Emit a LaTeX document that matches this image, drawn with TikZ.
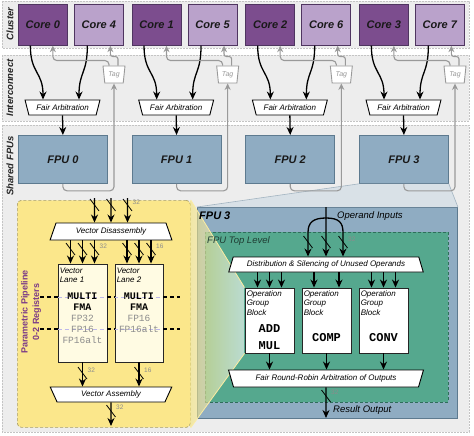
\documentclass[tikz,border=0pt]{standalone}
\usepackage{fontspec}
\setmainfont{Liberation Sans}
\setsansfont{Liberation Sans}
\setmonofont{Liberation Mono}
\usetikzlibrary{arrows.meta,shapes.geometric}
\definecolor{coreD}{HTML}{7C4D8E}
\definecolor{coreL}{HTML}{BAA2CB}
\definecolor{coreB}{HTML}{4F3560}
\definecolor{fpuF}{HTML}{8FACC2}
\definecolor{fpuB}{HTML}{5D7A8F}
\definecolor{bandF}{HTML}{EDEDED}
\definecolor{bandB}{HTML}{C4C4C4}
\definecolor{retG}{HTML}{999999}
\definecolor{topG}{HTML}{55A88E}
\definecolor{topB}{HTML}{2E6E5A}
\definecolor{ftlT}{HTML}{1F3D33}
\definecolor{yel}{HTML}{FBE78B}
\definecolor{yelB}{HTML}{A89F6A}
\definecolor{lanef}{HTML}{FFFBE3}
\definecolor{purp}{HTML}{7B3A87}
\definecolor{lav}{HTML}{BDB7EA}
\definecolor{wedgeL}{HTML}{F3E27A}
\definecolor{wedgeR}{HTML}{FFFFFF}
\definecolor{zoomF}{HTML}{D6E0E7}
\definecolor{zoomB}{HTML}{A3B4C1}
\newcommand\bitslash[2]{\draw[slashst] (#1-4.5,#2-6) -- (#1+4.5,#2+6);}
\tikzset{
 band/.style={draw=bandB, fill=bandF, line width=0.6pt, dash pattern=on 2pt off 1pt},
 bandlbl/.style={rotate=90, font=\fontsize{9.5}{11}\selectfont\bfseries\itshape, text=black!85, inner sep=0pt},
 corebox/.style={draw=coreB, line width=0.7pt, minimum width=49pt, minimum height=41pt, inner sep=0pt, anchor=north west, font=\fontsize{11}{13}\selectfont\bfseries\itshape, text=black!90},
 fpubox/.style={draw=fpuB, fill=fpuF, line width=0.8pt, minimum width=89pt, minimum height=48pt, inner sep=0pt, anchor=north west, font=\fontsize{11}{13}\selectfont\bfseries\itshape, text=black!90},
 muxbase/.style={trapezium, draw=black, fill=white, line width=0.9pt, inner sep=0pt, trapezium stretches=true, trapezium left angle=63, trapezium right angle=63, font=\fontsize{8}{9}\selectfont\itshape},
 demux/.style={muxbase},
 mux/.style={muxbase, shape border rotate=180},
 tagbox/.style={trapezium, draw=retG, fill=white, line width=0.9pt, inner sep=0pt, trapezium stretches=true, shape border rotate=180, trapezium left angle=80, trapezium right angle=80, minimum width=22pt, minimum height=17pt, text=retG, font=\fontsize{7}{8}\selectfont\itshape},
 arr/.style={draw=black, line width=1.3pt, -{Stealth[length=8pt,width=7pt]}},
 garr/.style={draw=retG, line width=1.1pt, rounded corners=4pt, -{Stealth[length=6.5pt,width=6pt]}},
 slashst/.style={draw=black, line width=0.8pt},
 bitlbl/.style={font=\fontsize{6.5}{7}\selectfont, text=black!45, inner sep=0pt, anchor=west},
 opbox/.style={draw=black!85, fill=white, line width=0.9pt, minimum width=49pt, minimum height=65pt, inner sep=0pt},
 lanebox/.style={draw=black!85, fill=lanef, line width=0.9pt, minimum height=98pt, inner sep=0pt},
 smallit/.style={font=\fontsize{8}{9.3}\selectfont\itshape, align=left, inner sep=0pt, anchor=north west},
 monob/.style={font=\fontsize{12}{17}\selectfont\ttfamily\bfseries, inner sep=0pt, align=center},
 lanemono/.style={font=\fontsize{10}{11}\selectfont\ttfamily\bfseries, inner sep=0pt},
 lanegrey/.style={font=\fontsize{9.5}{11}\selectfont\ttfamily, text=black!45, inner sep=0pt},
 pipe/.style={draw=black, line width=1.6pt, dash pattern=on 4pt off 3pt},
 pipein/.style={draw=lav, line width=0.8pt, dash pattern=on 4pt off 3pt},
 labelit/.style={font=\fontsize{9.5}{11}\selectfont\itshape, anchor=west, inner sep=0pt},
}
\begin{document}
\begin{tikzpicture}[x=1pt,y=-1pt]
\useasboundingbox (0,0) rectangle (474,436);
% bands
\path[band] (2,1) rectangle (469,48);
\path[band] (2,55) rectangle (469,121);
\path[band] (2,125) rectangle (469,432);
\node[bandlbl] (lcl) at (10,24) {Cluster};
\node[bandlbl] (lic) at (10,88) {Interconnect};
\node[bandlbl] (lsf) at (10,166) {Shared FPUs};
% top rows
\foreach \i/\a/\b in {0/0/4,1/1/5,2/2/6,3/3/7} {
 \pgfmathsetmacro\xo{18+113.67*\i}
 \node[corebox, fill=coreD] (c\a) at (\xo,4) {Core \a};
 \node[corebox, fill=coreL] (c\b) at (\xo+56,4) {Core \b};
 \node[mux, minimum width=75pt, minimum height=15pt] (arb\i) at (\xo+44.5,107.5) {Fair Arbitration};
 \node[tagbox] (tag\i) at (\xo+96,74.5) {Tag};
 \node[fpubox] (fpu\i) at (\xo,135) {FPU \i};
 \draw[arr] ([xshift=-12.5pt]c\a.south) .. controls +(0,28) and +(0,-28) .. ([xshift=-19.5pt]arb\i.north);
 \draw[arr] ([xshift=-11.5pt]c\b.south) .. controls +(0,28) and +(0,-28) .. ([xshift=16.5pt]arb\i.north);
 \draw[arr] (arb\i.south) -- (fpu\i.north);
 \draw[garr] ([xshift=-5pt]tag\i.north) -- ++(0,-5) -| ([xshift=10pt]c\a.south);
 \draw[garr, rounded corners=2.5pt] ([xshift=4pt]tag\i.north) -- ++(0,-9) -| ([xshift=11.5pt]c\b.south);
}
% zoom trapezoid from FPU 3
\node[draw=fpuB, fill=fpuF, line width=0.9pt, minimum width=260pt, minimum height=211pt, anchor=north west, inner sep=0pt] (fpud) at (197,207) {};
\fill[zoomF, fill opacity=0.85] (fpu3.south west) -- (fpu3.south east) -- (fpud.north east) -- (fpud.north west) -- cycle;
\draw[zoomB, line width=0.6pt] (fpu3.south west) -- (fpud.north west);
\draw[zoomB, line width=0.6pt] (fpu3.south east) -- (fpud.north east);
\foreach \i in {0,1,2,3} {
 \draw[garr] (fpu\i.south) -- ++(0,7) -| (tag\i.south);
}
% FPU 3 detail
\node[draw=topB, fill=topG, dash pattern=on 3pt off 2pt, line width=0.8pt, minimum width=243pt, minimum height=170pt, anchor=north west, inner sep=0pt] (ftl) at (205,232) {};
% yellow region
\node[draw=yelB, fill=yel, dash pattern=on 3pt off 2pt, line width=0.7pt, rounded corners=4pt, minimum width=173pt, minimum height=227pt, anchor=north west, inner sep=0pt] (yreg) at (17,200) {};
% operation group blocks
\node[opbox] (opA) at (269.5,320.5) {};
\node[opbox] (opC) at (326.5,320.5) {};
\node[opbox] (opV) at (383.5,320.5) {};
% wedge
\shade[left color=wedgeL, right color=wedgeR, fill opacity=0.6] (yreg.north east) -- (opA.north west) -- (opA.south west) -- (yreg.south east) -- cycle;
\draw[yel!80!white, line width=0.8pt] (yreg.north east) -- (opA.north west);
\draw[yel!80!white, line width=0.8pt] (yreg.south east) -- (opA.south west);
\node[font=\fontsize{11}{13}\selectfont\bfseries\itshape, anchor=west, inner sep=0pt] (fpudlbl) at (199,216) {FPU 3};
\node[labelit] (opinlbl) at (337,216) {Operand Inputs};
\node[labelit, text=ftlT] (ftllbl) at (207,241) {FPU Top Level};
\node[demux, minimum width=195pt, minimum height=15pt] (dist) at (326,264.5) {Distribution \& Silencing of Unused Operands};
\coordinate (opin) at (326,207);
\coordinate (opsplit) at (326,218);
\draw[arr] (opin) -- (dist.north);
\draw[arr] (opsplit) .. controls +(-13,0) and +(0,-10) .. ([xshift=-18pt,yshift=24pt]dist.north) -- ([xshift=-18pt]dist.north);
\draw[arr] (opsplit) .. controls +(13,0) and +(0,-10) .. ([xshift=17pt,yshift=24pt]dist.north) -- ([xshift=17pt]dist.north);
\bitslash{308}{242}\bitslash{326}{242}\bitslash{343}{242}
\node[bitlbl] (b1) at (348,239) {32};
\foreach \dx in {-12,0,12} {
 \draw[arr] ([xshift=\dx pt]opA.north |- dist.south) -- ([xshift=\dx pt]opA.north);
 \draw[arr] ([xshift=\dx pt]opV.north |- dist.south) -- ([xshift=\dx pt]opV.north);
}
\foreach \dx in {-12.5,12.5} {
 \draw[arr] ([xshift=\dx pt]opC.north |- dist.south) -- ([xshift=\dx pt]opC.north);
}
\node[smallit] (opAt) at ([xshift=2pt,yshift=-3pt]opA.north west) {Operation\\Group\\Block};
\node[smallit] (opCt) at ([xshift=2pt,yshift=-3pt]opC.north west) {Operation\\Group\\Block};
\node[smallit] (opVt) at ([xshift=2pt,yshift=-3pt]opV.north west) {Operation\\Group\\Block};
\node[monob] (opAm) at (269.5,337.5) {ADD\\MUL};
\node[monob] (opCm) at (326.5,338) {COMP};
\node[monob] (opVm) at (383.5,338) {CONV};
\node[mux, minimum width=195pt, minimum height=17pt] (rr) at (326,378.5) {Fair Round-Robin Arbitration of Outputs};
\draw[arr] (opA.south) -- (opA.south |- rr.north);
\draw[arr] (opC.south) -- (opC.south |- rr.north);
\draw[arr] (opV.south) -- (opV.south |- rr.north);
\coordinate (resout) at (326,418);
\draw[arr] (rr.south) -- (resout);
\bitslash{326}{396}
\node[bitlbl] (b2) at (331,392) {32};
\node[labelit] (reslbl) at (333,410) {Result Output};
% yellow region contents
\node[demux, minimum width=122pt, minimum height=17pt] (vd) at (111,231.5) {Vector Disassembly};
\coordinate (vin) at (111,198);
\foreach \dx in {-16.5,0,16.5} {
 \draw[arr] ([xshift=\dx pt]vin) -- ([xshift=\dx pt]vd.north);
}
\bitslash{94.5}{205}\bitslash{111}{205}\bitslash{127.5}{205}
\node[bitlbl] (b3) at (132.5,202) {32};
\node[lanebox, minimum width=49pt] (lane1) at (82.5,313) {};
\node[lanebox, minimum width=48pt] (lane2) at (139,313) {};
\foreach \dx in {-12,0,12} {
 \draw[arr] ([xshift=\dx pt]lane1.north |- vd.south) -- ([xshift=\dx pt]lane1.north);
 \draw[arr] ([xshift=\dx pt]lane2.north |- vd.south) -- ([xshift=\dx pt]lane2.north);
}
\bitslash{70.5}{249}\bitslash{82.5}{249}\bitslash{94.5}{249}
\bitslash{127}{249}\bitslash{139}{249}\bitslash{151}{249}
\node[bitlbl] (b4) at (99.5,246) {32};
\node[bitlbl] (b5) at (156,246) {16};
\foreach \y in {297,329} {
 \draw[pipein] (lane1.west |- 0,\y) -- (lane2.east |- 0,\y);
 \draw[pipe] (40,\y) -- (lane1.west |- 0,\y);
 \draw[pipe] (lane1.east |- 0,\y) -- (lane2.west |- 0,\y);
 \draw[pipe] (lane2.east |- 0,\y) -- (180,\y);
}
\node[smallit] (l1t) at ([xshift=2pt,yshift=-4pt]lane1.north west) {Vector\\Lane 1};
\node[smallit] (l2t) at ([xshift=2pt,yshift=-4pt]lane2.north west) {Vector\\Lane 2};
\node[lanemono] (l1a) at (82.5,296) {MULTI};
\node[lanemono] (l1b) at (82.5,307) {FMA};
\node[lanegrey] (l1c) at (82.5,318) {FP32};
\node[lanegrey] (l1d) at (82.5,329) {FP16};
\node[lanegrey] (l1e) at (82.5,340) {FP16alt};
\node[lanemono] (l2a) at (139,296) {MULTI};
\node[lanemono] (l2b) at (139,307) {FMA};
\node[lanegrey] (l2c) at (139,318) {FP16};
\node[lanegrey] (l2d) at (139,329) {FP16alt};
\node[rotate=90, font=\fontsize{9}{11.5}\selectfont\bfseries, text=purp, align=center, inner sep=0pt] (pplbl) at (31,312) {Parametric Pipeline\\0-2 Registers};
\node[mux, minimum width=122pt, minimum height=15pt] (va) at (111,394.5) {Vector Assembly};
\draw[arr] (lane1.south) -- (lane1.south |- va.north);
\draw[arr] (lane2.south) -- (lane2.south |- va.north);
\bitslash{82.5}{373}\bitslash{139}{373}
\node[bitlbl] (b6) at (87.5,370) {32};
\node[bitlbl] (b7) at (144,370) {16};
\coordinate (yout) at (111,426);
\draw[arr] (va.south) -- (yout);
\bitslash{111}{411}
\node[bitlbl] (b8) at (116,407) {32};
\end{tikzpicture}
\end{document}
